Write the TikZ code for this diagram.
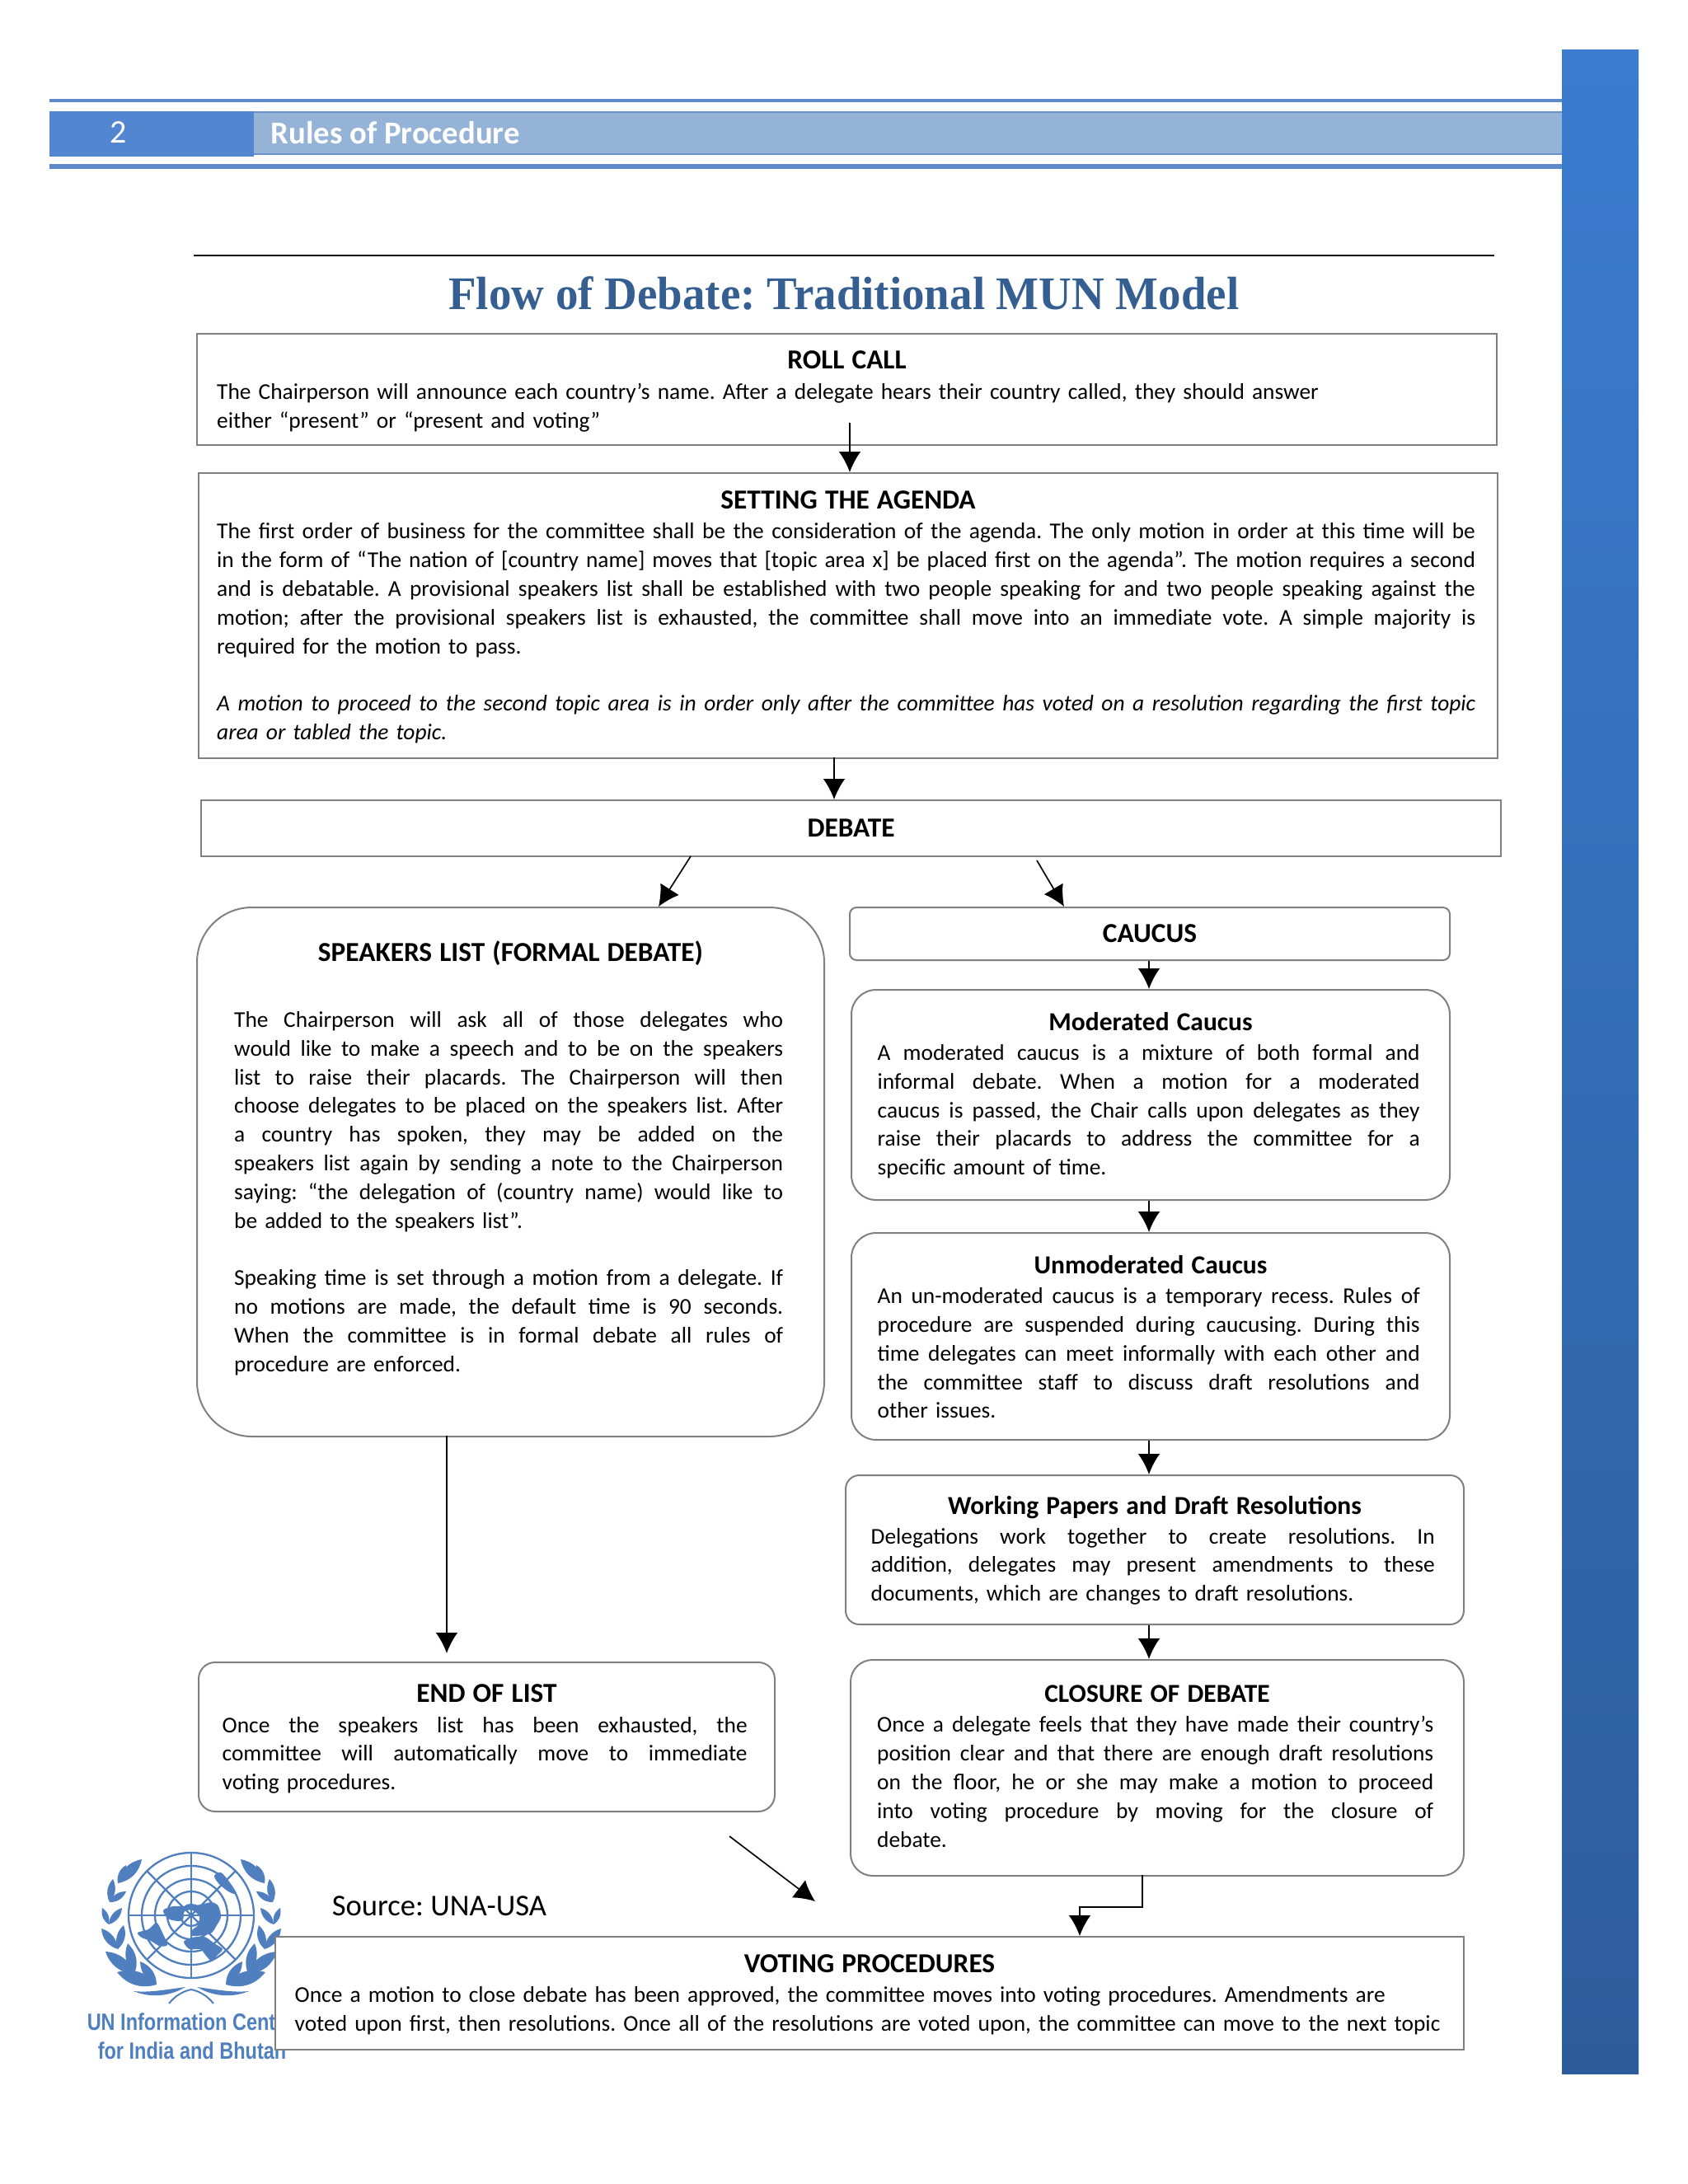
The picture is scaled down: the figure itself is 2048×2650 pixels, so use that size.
\documentclass[tikz,border=0pt]{standalone}
\usepackage{fontspec}
\setmainfont{Carlito}
\newfontfamily\titlefont[FakeStretch=0.97]{Liberation Serif}
\newfontfamily\logofont[FakeStretch=0.82]{Liberation Sans}
\usetikzlibrary{arrows.meta,shapes.geometric}
\frenchspacing
\newcommand{\px}{0.3pt}
\newcommand{\jl}[1]{\moveleft 0.7pt\hbox to \hsize{\spaceskip 0.226em plus 0.4em minus 0.07em\relax #1}}
\newcommand{\tl}[1]{\moveleft 0.7pt\hbox to \hsize{#1\hss}}
\newcommand{\hd}[1]{\centerline{\fontsize{10}{10.45}\selectfont\bfseries #1}\vskip 0.5pt}
\newcommand{\hs}[1]{\centerline{\fontsize{9.45}{10.45}\selectfont\bfseries #1}\vskip 0.3pt}
\newcommand{\gapend}[1]{\vskip #1\hrule height 0pt}
\definecolor{bandtop}{HTML}{3B7CCF}
\definecolor{bandbot}{HTML}{2D5C9C}
\definecolor{barblue}{HTML}{5386D0}
\definecolor{barpale}{HTML}{95B3D7}
\definecolor{linblue}{HTML}{5E88CC}
\definecolor{titleblue}{HTML}{365F91}
\definecolor{logoblue}{HTML}{4F7FBE}
\definecolor{boxgray}{HTML}{808080}
\tikzset{
    x=\px, y=-\px,
    flowbox/.style={draw=boxgray, line width=0.6pt, fill=white, anchor=north west, inner sep=0pt,
        font=\fontsize{8.22}{10.45}\selectfont},
    flow/.style={line width=0.5pt, -{Latex[length=7.5pt,width=8pt]}}
}
\begin{document}
\begin{tikzpicture}
    \useasboundingbox (0,0) rectangle (2048,2650);

    % page band and header
    \shade[top color=bandtop, bottom color=bandbot] (1895,60) rectangle (1988,2516);
    \fill[linblue] (60,120) rectangle (1895,124);
    \fill[linblue] (60,199) rectangle (1895,205);
    \fill[barblue] (60,135) rectangle (308,190);
    \fill[barpale] (308,135) rectangle (1895,188);
    \fill[linblue!80!barpale] (308,135) rectangle (1895,137);
    \fill[linblue!80!barpale] (308,186) rectangle (1895,188);
    \node[text=white, font=\fontsize{12}{14}\selectfont] (pagenum) at (144,161) {2};
    \node[text=white, anchor=west, font=\fontsize{11.6}{14}\selectfont\bfseries] (chapter) at (317,161) {Rules of Procedure};

    % title
    \draw[line width=0.7pt] (235,310) -- (1813,310);
    \node[text=titleblue, font=\fontsize{17}{20}\titlefont\bfseries] (title) at (1024,356) {Flow of Debate: Traditional MUN Model};

    % logo
    \begin{scope}[shift={(232,2324)}]
        \draw[logoblue, line width=0.7pt] (0,0) circle (76) circle (60) circle (44) circle (29) circle (13);
        \foreach \a in {0,45,...,135}
            \draw[logoblue, line width=0.7pt] (\a:76) -- (\a+180:76);
        \fill[logoblue] plot[smooth cycle, tension=0.5] coordinates {(-34,-6) (-22,-11) (-9,-11) (11,-13) (25,-16) (33,-11) (36,2) (31,12) (25,21) (15,24) (1,25) (0,19) (8,12) (10,2) (2,-6) (-8,-5) (-10,5) (-16,7) (-28,4)};
        \fill[logoblue] plot[smooth cycle, tension=0.5] coordinates {(-65,21) (-52,17) (-42,9) (-35,21) (-29,36) (-39,37) (-49,31) (-60,27)};
        \fill[logoblue] plot[smooth cycle, tension=0.5] coordinates {(-9,32) (1,27) (16,26) (28,34) (38,41) (31,49) (25,56) (18,49) (11,41) (-2,41)};
        \fill[logoblue] plot[smooth cycle, tension=0.5] coordinates {(28,-48) (36,-52) (46,-41) (55,-26) (45,-29) (33,-39)};
        \foreach \s in {1,-1} {
            \begin{scope}[xscale=\s]
                \foreach \bx/\by/\ax/\ay/\cx/\cy in {-89/-39/-60/-68/-79/-61, -99/-16/-79/-29/-95/-44, -100/11/-84/-9/-108/-9, -89/41/-82/12/-109/16, -69/71/-77/34/-104/44, -42/84/-62/56/-90/69} {
                    \fill[logoblue] (\bx,\by) to[bend left=34] (\ax,\ay) to[bend left=34] (\bx,\by);
                    \fill[logoblue] (\bx,\by) to[bend left=34] (\cx,\cy) to[bend left=34] (\bx,\by);
                }
                \fill[logoblue] (-70,92) .. controls (-50,94) and (-30,90) .. (-7,87) .. controls (-22,96) and (-45,102) .. (-70,92);
                \draw[logoblue, line width=0.6pt] (-27,107) .. controls (-20,98) and (-10,92) .. (0,90);
            \end{scope}
        }
    \end{scope}
    \node[text=logoblue, anchor=west, font=\fontsize{8.6}{10}\logofont\bfseries] (uninfo) at (94,2453) {UN Information Centre};
    \node[text=logoblue, anchor=west, font=\fontsize{8.6}{10}\logofont\bfseries] (unindia) at (107,2488) {for India and Bhutan};

    \node[anchor=west, font=\fontsize{11}{13}\selectfont] (source) at (391,2313) {Source: UNA-USA};

    % flow boxes
    \node[flowbox, minimum width=1577*\px, minimum height=135*\px, text width=1524*\px] (rollcall) at (238,404) {%
        \hd{ROLL CALL}
        \tl{The Chairperson will announce each country’s name. After a delegate hears their country called, they should answer}
        \tl{either “present” or “present and voting”}
        \gapend{-1.5pt}};

    \node[flowbox, minimum width=1576*\px, minimum height=346*\px, text width=1527*\px] (setting) at (240,573) {%
        \hd{SETTING THE AGENDA}
        \jl{The first order of business for the committee shall be the consideration of the agenda. The only motion in order at this time will be}
        \jl{in the form of “The nation of [country name] moves that [topic area x] be placed first on the agenda”. The motion requires a second}
        \jl{and is debatable. A provisional speakers list shall be established with two people speaking for and two people speaking against the}
        \jl{motion; after the provisional speakers list is exhausted, the committee shall move into an immediate vote. A simple majority is}
        \tl{required for the motion to pass.}
        \vskip 10.45pt
        \jl{\itshape A motion to proceed to the second topic area is in order only after the committee has voted on a resolution regarding the first topic}
        \tl{\itshape area or tabled the topic.}
        \gapend{-1pt}};

    \node[flowbox, minimum width=1577*\px, minimum height=68*\px, text width=1527*\px] (debate) at (243,970) {\hd{DEBATE}};

    \node[flowbox, rounded corners=20pt, minimum width=761*\px, minimum height=642*\px, text width=666*\px] (speakers) at (238,1100) {%
        \hd{SPEAKERS LIST (FORMAL DEBATE)}
        \vskip 13pt
        \jl{The Chairperson will ask all of those delegates who}
        \jl{would like to make a speech and to be on the speakers}
        \jl{list to raise their placards. The Chairperson will then}
        \jl{choose delegates to be placed on the speakers list. After}
        \jl{a country has spoken, they may be added on the}
        \jl{speakers list again by sending a note to the Chairperson}
        \jl{saying: “the delegation of (country name) would like to}
        \tl{be added to the speakers list”.}
        \vskip 10.45pt
        \jl{Speaking time is set through a motion from a delegate. If}
        \jl{no motions are made, the default time is 90 seconds.}
        \jl{When the committee is in formal debate all rules of}
        \tl{procedure are enforced.}
        \gapend{10pt}};

    \node[flowbox, rounded corners=2.5pt, minimum width=728*\px, minimum height=64*\px, text width=658*\px] (caucus) at (1030,1100) {\hd{CAUCUS}\gapend{-1.5pt}};

    \node[flowbox, rounded corners=9pt, minimum width=726*\px, minimum height=255*\px, text width=658*\px] (moderated) at (1032,1200) {%
        \hs{Moderated Caucus}
        \jl{A moderated caucus is a mixture of both formal and}
        \jl{informal debate. When a motion for a moderated}
        \jl{caucus is passed, the Chair calls upon delegates as they}
        \jl{raise their placards to address the committee for a}
        \tl{specific amount of time.}
        \gapend{-0.5pt}};

    \node[flowbox, rounded corners=9pt, minimum width=726*\px, minimum height=251*\px, text width=658*\px] (unmoderated) at (1032,1495) {%
        \hs{Unmoderated Caucus}
        \jl{An un-moderated caucus is a temporary recess. Rules of}
        \jl{procedure are suspended during caucusing. During this}
        \jl{time delegates can meet informally with each other and}
        \jl{the committee staff to discuss draft resolutions and}
        \tl{other issues.}
        \gapend{-0.5pt}};

    \node[flowbox, rounded corners=5pt, minimum width=750*\px, minimum height=181*\px, text width=684*\px] (working) at (1025,1789) {%
        \hs{Working Papers and Draft Resolutions}
        \jl{Delegations work together to create resolutions. In}
        \jl{addition, delegates may present amendments to these}
        \tl{documents, which are changes to draft resolutions.}
        \gapend{-0.5pt}};

    \node[flowbox, rounded corners=8pt, minimum width=744*\px, minimum height=262*\px, text width=675*\px] (closure) at (1031,2013) {%
        \hs{CLOSURE OF DEBATE}
        \jl{Once a delegate feels that they have made their country’s}
        \jl{position clear and that there are enough draft resolutions}
        \jl{on the floor, he or she may make a motion to proceed}
        \jl{into voting procedure by moving for the closure of}
        \tl{debate.}
        \gapend{1pt}};

    \node[flowbox, rounded corners=6pt, minimum width=699*\px, minimum height=181*\px, text width=637*\px] (endlist) at (240,2016) {%
        \hd{END OF LIST}
        \jl{Once the speakers list has been exhausted, the}
        \jl{committee will automatically move to immediate}
        \tl{voting procedures.}
        \gapend{-1.5pt}};

    \node[flowbox, minimum width=1442*\px, minimum height=137*\px, text width=1390*\px] (voting) at (333,2349) {%
        \hd{VOTING PROCEDURES}
        \tl{Once a motion to close debate has been approved, the committee moves into voting procedures. Amendments are}
        \tl{voted upon first, then resolutions. Once all of the resolutions are voted upon, the committee can move to the next topic}
        \gapend{-1pt}};

    % connectors
    \coordinate (rollout) at (1031,513);
    \coordinate (settingout) at (1012,919);
    \coordinate (debateleft) at (838,1039);
    \coordinate (debateright) at (1258,1044);
    \coordinate (speakerin) at (799,1100);
    \coordinate (caucusin) at (1291,1100);
    \coordinate (rightline) at (1394,0);
    \coordinate (speakerout) at (542,1742);
    \coordinate (endin) at (542,2006);
    \coordinate (freestart) at (885,2228);
    \coordinate (freeend) at (989,2307);
    \coordinate (closeout) at (1386,2275);
    \coordinate (voteturn) at (1386,2314);
    \coordinate (votein) at (1310,2349);

    \draw[flow] (rollout) -- (setting.north -| rollout);
    \draw[flow] (settingout) -- (debate.north -| settingout);
    \draw[flow] (debateleft) -- (speakerin);
    \draw[flow] (debateright) -- (caucusin);
    \draw[flow] (caucus.south -| rightline) -- (moderated.north -| rightline);
    \draw[flow] (moderated.south -| rightline) -- (unmoderated.north -| rightline);
    \draw[flow] (unmoderated.south -| rightline) -- (working.north -| rightline);
    \draw[flow] (working.south -| rightline) -- (closure.north -| rightline);
    \draw[flow] (speakerout) -- (endin);
    \draw[flow] (freestart) -- (freeend);
    \draw[flow] (closeout) -- (voteturn) -| (votein);
\end{tikzpicture}
\end{document}
